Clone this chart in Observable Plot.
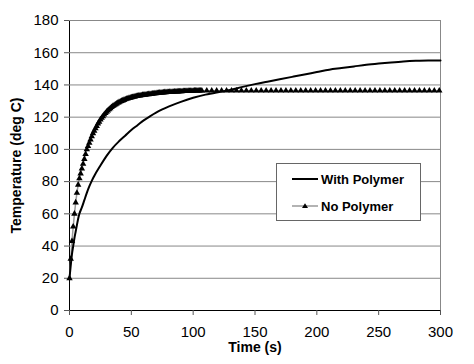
<!DOCTYPE html>
<html>
<head>
<meta charset="utf-8">
<script src="https://cdn.jsdelivr.net/npm/d3@7"></script>
<script src="https://cdn.jsdelivr.net/npm/@observablehq/plot@0.6"></script>
<style>
  html, body { margin: 0; padding: 0; background: #fff; }
  #wrap { position: relative; width: 474px; height: 364px; font-family: "Liberation Sans", Arial, sans-serif; }
  #legend { position: absolute; left: 276px; top: 163px; width: 143px; height: 56px; border: 1px solid #666; background: #fff; box-sizing: content-box; }
  .lg-row { position: absolute; left: 14px; height: 16px; display: flex; align-items: center; font-size: 13px; font-weight: bold; color: #000; }
  .lg-row svg { margin-right: 2px; }
</style>
</head>
<body>
<div id="wrap"></div>
<script>
// Time axis (s) and temperatures (deg C)
const noPolymerTime = [
  0,1,2,3,4,5,6,7,8,9,10,11,12,13,14,15,16,17,18,19,20,21,22,23,24,25,26,27,28,29,30,
  31,32,33,34,35,36,37,38,39,40,41,42,43,44,45,46,47,48,49,50,51,52,53,54,55,56,57,58,59,60,
  61,62,63,64,65,66,67,68,69,70,71,72,73,74,75,76,77,78,79,80,81,82,83,84,85,86,87,88,89,90,
  91,92,93,94,95,96,97,98,99,100,101,102,103,104,105,106,107,
  111,115,119,123,127,131,135,139,143,147,151,155,159,163,167,171,175,179,183,187,191,195,199,
  203,207,211,215,219,223,227,231,235,239,243,247,251,255,259,263,267,271,275,279,283,287,291,295,299
];
const noPolymerTemp = [
  20,32,43,52,60,67,73,78,82,85,88,91,94,97,100,102,104,106,108,110,111.5,113,114.5,116,117,118.5,119.5,120.5,121.5,122.5,123.3,
  124,124.8,125.5,126.2,126.8,127.3,127.8,128.3,128.8,129.2,129.6,130,130.3,130.6,131,131.3,131.5,131.8,132,132.2,132.4,132.6,132.8,133,133.1,133.3,133.4,133.5,133.7,133.8,
  133.9,134,134.1,134.2,134.3,134.4,134.5,134.6,134.7,134.8,134.9,135,135.1,135.2,135.2,135.3,135.4,135.4,135.5,135.5,135.6,135.6,135.7,135.7,135.8,135.8,135.9,135.9,136,136,
  136,136.1,136.1,136.1,136.2,136.2,136.2,136.3,136.3,136.3,136.4,136.4,136.4,136.4,136.4,136.4,136.4,
  136.4,136.4,136.4,136.4,136.4,136.4,136.4,136.4,136.4,136.4,136.4,136.4,136.4,136.4,136.4,136.4,136.4,136.4,136.4,136.4,136.4,136.4,136.4,
  136.4,136.4,136.4,136.4,136.4,136.4,136.4,136.4,136.4,136.4,136.4,136.4,136.4,136.4,136.4,136.4,136.4,136.4,136.4,136.4,136.4,136.4,136.4,136.4,136.4
];
const withPolymerTime = [0,1,2,3,4,5,6,7,8,10,12,14,16,18,20,25,30,35,40,45,50,55,60,65,70,75,80,90,100,110,120,130,140,150,160,170,180,190,200,210,220,230,240,250,260,270,280,290,300];
const withPolymerTemp = [20,28,35,40,45,49,53,57,60,64,68.5,73,77,80.5,83.5,90,96,101,105,108.5,112,115,118,120.5,122.8,124.8,126.5,129.5,132,134,135.5,136.8,138.8,140.5,142,143.5,145,146.5,148,149.5,150.5,151.5,152.5,153.3,154,154.6,155,155.2,155.2];

const xTicks = [0, 50, 100, 150, 200, 250, 300];
const yTicks = [0, 20, 40, 60, 80, 100, 120, 140, 160, 180];
const xLabel = "Time (s)";
const yLabel = "Temperature (deg C)";
const seriesNames = ["With Polymer", "No Polymer"];

const noPoly = noPolymerTime.map((t, i) => ({t, v: noPolymerTemp[i]}));
const withPoly = withPolymerTime.map((t, i) => ({t, v: withPolymerTemp[i]}));

const chart = Plot.plot({
  width: 474,
  height: 364,
  marginLeft: 69,
  marginRight: 34,
  marginTop: 20,
  marginBottom: 54,
  style: {fontFamily: "'Liberation Sans', Arial, sans-serif", fontSize: "15px", color: "#000", background: "#fff"},
  x: {domain: [0, 300], ticks: xTicks, tickSize: 5, tickPadding: 11, label: xLabel, labelAnchor: "center", labelOffset: 41, line: true},
  y: {domain: [0, 180], ticks: yTicks, tickSize: 5, tickPadding: 6, label: yLabel, labelAnchor: "center", labelOffset: 58, line: true},
  marks: [
    Plot.ruleY(yTicks.filter(d => d > 0), {stroke: "#888", strokeWidth: 1}),
    Plot.ruleX([300], {stroke: "#888", strokeWidth: 1}),
    Plot.line(noPoly, {x: "t", y: "v", stroke: "#9a9a9a", strokeWidth: 1.5}),
    Plot.dot(noPoly, {x: "t", y: "v", symbol: "triangle", r: 2.4, fill: "#000", stroke: "none"}),
    Plot.line(withPoly, {x: "t", y: "v", stroke: "#000", strokeWidth: 2, curve: "monotone-x"})
  ]
});

d3.select(chart).selectAll("text").filter(function() {
  const s = this.textContent;
  return s.startsWith(xLabel) || s.startsWith(yLabel);
}).attr("font-weight", "bold").attr("font-size", "14px").text(function() {
  const s = this.textContent;
  return s.startsWith(xLabel) ? xLabel : yLabel;
});
d3.select(chart).selectAll("[aria-label='x-axis tick'] path, [aria-label='y-axis tick'] path, [aria-label='x-axis'] line, [aria-label='y-axis'] line, [aria-label='x-axis'] path, [aria-label='y-axis'] path").attr("stroke", "#555");

const wrap = document.getElementById("wrap");
wrap.appendChild(chart);

const legend = document.createElement("div");
legend.id = "legend";
legend.innerHTML =
  `<div class="lg-row" style="top:7px"><svg width="28" height="10"><line x1="1" y1="5" x2="27" y2="5" stroke="#000" stroke-width="2"/></svg>${seriesNames[0]}</div>` +
  `<div class="lg-row" style="top:34px"><svg width="28" height="10"><line x1="1" y1="5" x2="27" y2="5" stroke="#9a9a9a" stroke-width="1.5"/><path d="M14,2.2 L17,7 L11,7 Z" fill="#000"/></svg>${seriesNames[1]}</div>`;
wrap.appendChild(legend);
</script>
</body>
</html>
